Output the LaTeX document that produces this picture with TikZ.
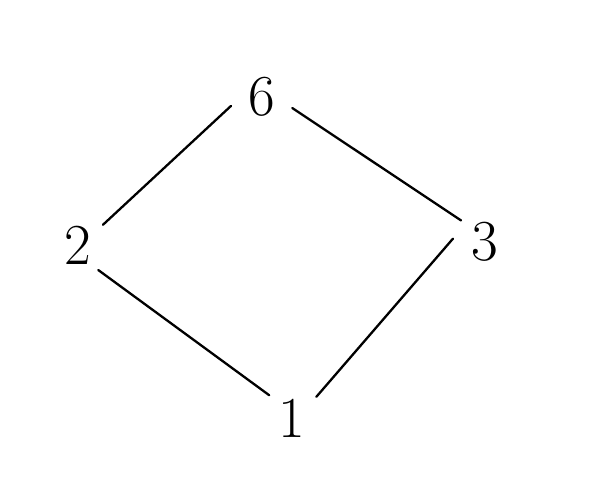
\documentclass[tikz,border=0pt]{standalone}
\begin{document}
\begin{tikzpicture}[x=1pt, y=-1pt, line cap=round, line join=round]
			\tikzset{num/.style={circle, minimum size=64pt, inner sep=0pt, font=\fontsize{58}{60}\selectfont}}
			\useasboundingbox (0,0) rectangle (600,486);
			\path
			(262,97) node[num] (n6) {6}
			(78,245) node[num] (n2) {2}
			(485,242) node[num] (n3) {3}
			(292,418) node[num] (n1) {1}
			;
			\foreach \p/\q in {n6.196/n2.39, n6.-20/n3.138, n2.-51/n1.135, n3.174/n1.41}
			\draw[line width=2.3pt] (\p)--(\q);
			\end{tikzpicture}
\end{document}
